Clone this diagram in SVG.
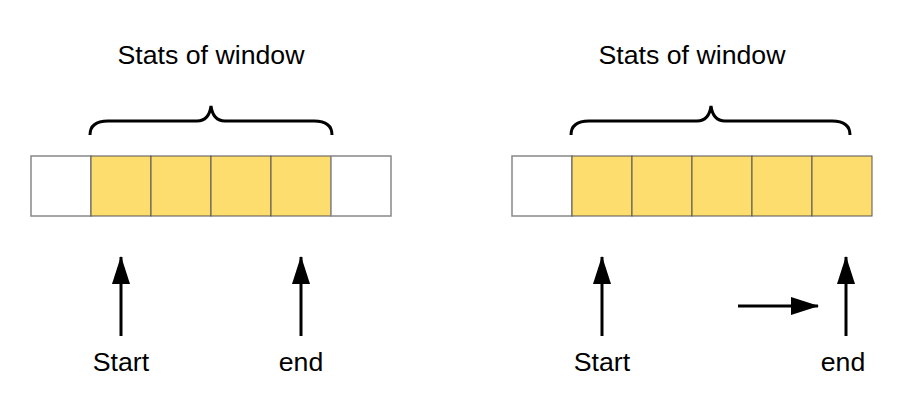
<svg xmlns="http://www.w3.org/2000/svg" width="921" height="408" viewBox="0 0 921 408">
<style>
.w{fill:#fff;stroke:#888;stroke-width:1.5}
.y{fill:#fedd6f;stroke:#555;stroke-width:1}
.t{font-family:"Liberation Sans",Arial,sans-serif;font-size:26.7px;fill:#000;text-anchor:middle}
.br{fill:none;stroke:#000;stroke-width:3}
.ar{stroke:#000;stroke-width:3;fill:none}
</style>
<defs>
<marker id="ah2" viewBox="0 0 28 18" refX="27" refY="9" markerWidth="28" markerHeight="18" markerUnits="userSpaceOnUse" orient="auto"><path d="M0,0L28,9L0,18z" fill="#000"/></marker></defs>
<g id="left-array">
<rect class="w" x="31" y="156" width="60" height="60"/>
<rect class="y" x="91" y="156" width="60" height="60"/>
<rect class="y" x="151" y="156" width="60" height="60"/>
<rect class="y" x="211" y="156" width="60" height="60"/>
<rect class="y" x="271" y="156" width="60" height="60"/>
<rect class="w" x="331" y="156" width="60" height="60"/>
</g>
<g id="right-array">
<rect class="w" x="512" y="156" width="60" height="60"/>
<rect class="y" x="572" y="156" width="60" height="60"/>
<rect class="y" x="632" y="156" width="60" height="60"/>
<rect class="y" x="692" y="156" width="60" height="60"/>
<rect class="y" x="752" y="156" width="60" height="60"/>
<rect class="y" x="812" y="156" width="60" height="60"/>
</g>
<g id="left-brace">
<path class="br" d="M90,135 Q90,121 108,121 L197,121 Q209,121 211,106 Q213,121 225,121 L314,121 Q332,121 332,135"/>
<text class="t" x="211" y="64">Stats of window</text>
</g>
<g id="right-brace">
<path class="br" d="M571,135 Q571,121 589,121 L697,121 Q709,121 711,106 Q713,121 725,121 L832,121 Q850,121 850,135"/>
<text class="t" x="692" y="64">Stats of window</text>
</g>
<g id="connectors">
<line class="ar" x1="121" y1="336" x2="121" y2="257" marker-end="url(#ah2)"/>
<line class="ar" x1="301" y1="336" x2="301" y2="257" marker-end="url(#ah2)"/>
<line class="ar" x1="602" y1="336" x2="602" y2="257" marker-end="url(#ah2)"/>
<line class="ar" x1="846" y1="336" x2="846" y2="257" marker-end="url(#ah2)"/>
<line class="ar" x1="738" y1="306" x2="818" y2="306" marker-end="url(#ah2)"/>
</g>
<g id="labels">
<text class="t" x="121" y="371">Start</text>
<text class="t" x="301" y="371">end</text>
<text class="t" x="602" y="371">Start</text>
<text class="t" x="843" y="371">end</text>
</g>
</svg>
